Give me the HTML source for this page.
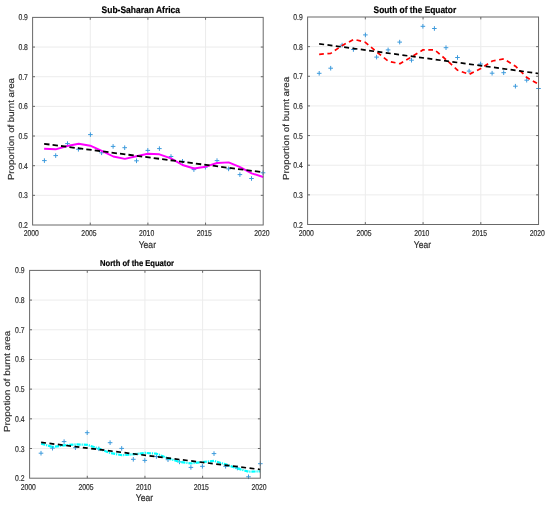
<!DOCTYPE html>
<html lang="en"><head><meta charset="utf-8"><title>Proportion of burnt area</title>
<style>html,body{margin:0;padding:0;background:#fff}svg{display:block}text{font-family:"Liberation Sans", Arial, Helvetica, sans-serif;fill:#2e2e2e;stroke:#2e2e2e;stroke-width:.2px;text-rendering:geometricPrecision}</style></head><body>
<svg width="550" height="506" viewBox="0 0 550 506">
<rect width="550" height="506" fill="#fff"/>
<g>
<path d="M90.25 17.4V225M147.9 17.4V225M205.55 17.4V225M32.6 195.34H263.2M32.6 165.69H263.2M32.6 136.03H263.2M32.6 106.37H263.2M32.6 76.71H263.2M32.6 47.06H263.2" stroke="#ececec" stroke-width="1" fill="none"/>
<path d="M42.1 160.6h4.6M44.4 158.3v4.6M53.4 155.6h4.6M55.7 153.3v4.6M65.2 143.6h4.6M67.5 141.3v4.6M76.1 149.3h4.6M78.4 147v4.6M88.1 134.6h4.6M90.4 132.3v4.6M99.3 152.8h4.6M101.6 150.5v4.6M110.8 146.4h4.6M113.1 144.1v4.6M122.4 147.7h4.6M124.7 145.4v4.6M134.2 160.8h4.6M136.5 158.5v4.6M145.5 150.4h4.6M147.8 148.1v4.6M157.1 148.6h4.6M159.4 146.3v4.6M168.7 156.5h4.6M171 154.2v4.6M180.2 161.3h4.6M182.5 159v4.6M191.6 169.6h4.6M193.9 167.3v4.6M203.1 167.2h4.6M205.4 164.9v4.6M214.7 160.6h4.6M217 158.3v4.6M226.3 168.9h4.6M228.6 166.6v4.6M237.6 174.6h4.6M239.9 172.3v4.6M249.2 178.5h4.6M251.5 176.2v4.6M260.7 172.8h4.6M263 170.5v4.6" stroke="#3c9adc" stroke-width="1" fill="none"/>
<path d="M44.13 148.8 L55.66 149.3 L67.19 146 L78.72 143.8 L90.25 145.7 L101.78 150.8 L113.31 156.5 L124.84 158.9 L136.37 156.3 L147.9 153.7 L159.43 154.3 L170.96 158.4 L182.49 165 L194.02 168.5 L205.55 166.7 L217.08 163 L228.61 162.4 L240.14 167.2 L251.67 173.3 L263.2 177" fill="none" stroke-linejoin="round" stroke="#ff00ff" stroke-width="1.9"/>
<path d="M44.13 143.8L263.2 172.3" stroke="#000" stroke-width="1.8" stroke-dasharray="5.4 3.1" fill="none"/>
<path d="M90.25 225v-2.4M90.25 17.4v2.4M147.9 225v-2.4M147.9 17.4v2.4M205.55 225v-2.4M205.55 17.4v2.4M32.6 195.34h2.4M263.2 195.34h-2.4M32.6 165.69h2.4M263.2 165.69h-2.4M32.6 136.03h2.4M263.2 136.03h-2.4M32.6 106.37h2.4M263.2 106.37h-2.4M32.6 76.71h2.4M263.2 76.71h-2.4M32.6 47.06h2.4M263.2 47.06h-2.4" stroke="#686868" stroke-width="1" fill="none"/>
<rect x="32.6" y="17.4" width="230.6" height="207.6" fill="none" stroke="#686868" stroke-width="1"/>
<text x="101.6" y="13" font-size="9.5" style="font-weight:bold;fill:#000;stroke:#000" textLength="78.4" lengthAdjust="spacingAndGlyphs">Sub-Saharan Africa</text>
<text x="18.4" y="228" font-size="8.5" textLength="9.5" lengthAdjust="spacingAndGlyphs">0.2</text>
<text x="18.4" y="198.34" font-size="8.5" textLength="9.5" lengthAdjust="spacingAndGlyphs">0.3</text>
<text x="18.4" y="168.69" font-size="8.5" textLength="9.5" lengthAdjust="spacingAndGlyphs">0.4</text>
<text x="18.4" y="139.03" font-size="8.5" textLength="9.5" lengthAdjust="spacingAndGlyphs">0.5</text>
<text x="18.4" y="109.37" font-size="8.5" textLength="9.5" lengthAdjust="spacingAndGlyphs">0.6</text>
<text x="18.4" y="79.71" font-size="8.5" textLength="9.5" lengthAdjust="spacingAndGlyphs">0.7</text>
<text x="18.4" y="50.06" font-size="8.5" textLength="9.5" lengthAdjust="spacingAndGlyphs">0.8</text>
<text x="18.4" y="20.4" font-size="8.5" textLength="9.5" lengthAdjust="spacingAndGlyphs">0.9</text>
<text x="23.7" y="236.25" font-size="8.5" textLength="15.2" lengthAdjust="spacingAndGlyphs">2000</text>
<text x="81.35" y="236.25" font-size="8.5" textLength="15.2" lengthAdjust="spacingAndGlyphs">2005</text>
<text x="139" y="236.25" font-size="8.5" textLength="15.2" lengthAdjust="spacingAndGlyphs">2010</text>
<text x="196.65" y="236.25" font-size="8.5" textLength="15.2" lengthAdjust="spacingAndGlyphs">2015</text>
<text x="254.3" y="236.25" font-size="8.5" textLength="15.2" lengthAdjust="spacingAndGlyphs">2020</text>
<text x="138.7" y="248.1" font-size="9.7" textLength="17.3" lengthAdjust="spacingAndGlyphs">Year</text>
<text transform="translate(14.2 180.1) rotate(-90) scale(1 0.94)" font-size="9.3" textLength="102" lengthAdjust="spacingAndGlyphs">Proportion of burnt area</text>
</g>
<g>
<path d="M365.34 17V224.5M423.07 17V224.5M480.81 17V224.5M307.6 194.86H538.55M307.6 165.21H538.55M307.6 135.57H538.55M307.6 105.93H538.55M307.6 76.29H538.55M307.6 46.64H538.55" stroke="#ececec" stroke-width="1" fill="none"/>
<path d="M316.9 73.3h4.6M319.2 71v4.6M328.4 68.2h4.6M330.7 65.9v4.6M339.8 45.1h4.6M342.1 42.8v4.6M351.1 49.5h4.6M353.4 47.2v4.6M363.1 34.9h4.6M365.4 32.6v4.6M374.3 57.1h4.6M376.6 54.8v4.6M385.8 49.9h4.6M388.1 47.6v4.6M397.4 42.1h4.6M399.7 39.8v4.6M409.2 60.2h4.6M411.5 57.9v4.6M420.6 26.3h4.6M422.9 24v4.6M432.1 28.5h4.6M434.4 26.2v4.6M443.7 47.7h4.6M446 45.4v4.6M455.2 57.5h4.6M457.5 55.2v4.6M466.8 71.1h4.6M469.1 68.8v4.6M478.3 64h4.6M480.6 61.7v4.6M489.8 73.2h4.6M492.1 70.9v4.6M501.4 72.7h4.6M503.7 70.4v4.6M513.1 86.2h4.6M515.4 83.9v4.6M524.4 80.2h4.6M526.7 77.9v4.6M536.2 88.5h4.6M538.5 86.2v4.6" stroke="#3c9adc" stroke-width="1" fill="none"/>
<path d="M319.15 54.3 L330.69 53.4 L342.24 45.5 L353.79 39.3 L365.34 42.3 L376.88 52.1 L388.43 61.3 L399.98 63.7 L411.53 56.9 L423.07 49.8 L434.62 49.8 L446.17 59.7 L457.72 70.3 L469.26 74.3 L480.81 68.5 L492.36 61 L503.91 58.9 L515.45 66.2 L527 77.6 L538.55 84.2" fill="none" stroke-linejoin="round" stroke="#ff0000" stroke-width="1.7" stroke-dasharray="4.7 3.6"/>
<path d="M319.15 43.8L538.55 73.5" stroke="#000" stroke-width="1.7" stroke-dasharray="5 3.4" fill="none"/>
<path d="M365.34 224.5v-2.4M365.34 17v2.4M423.07 224.5v-2.4M423.07 17v2.4M480.81 224.5v-2.4M480.81 17v2.4M307.6 194.86h2.4M538.55 194.86h-2.4M307.6 165.21h2.4M538.55 165.21h-2.4M307.6 135.57h2.4M538.55 135.57h-2.4M307.6 105.93h2.4M538.55 105.93h-2.4M307.6 76.29h2.4M538.55 76.29h-2.4M307.6 46.64h2.4M538.55 46.64h-2.4" stroke="#686868" stroke-width="1" fill="none"/>
<rect x="307.6" y="17" width="230.95" height="207.5" fill="none" stroke="#686868" stroke-width="1"/>
<text x="373.6" y="13" font-size="9.5" style="font-weight:bold;fill:#000;stroke:#000" textLength="82.6" lengthAdjust="spacingAndGlyphs">South of the Equator</text>
<text x="293.3" y="227.5" font-size="8.5" textLength="9.5" lengthAdjust="spacingAndGlyphs">0.2</text>
<text x="293.3" y="197.86" font-size="8.5" textLength="9.5" lengthAdjust="spacingAndGlyphs">0.3</text>
<text x="293.3" y="168.21" font-size="8.5" textLength="9.5" lengthAdjust="spacingAndGlyphs">0.4</text>
<text x="293.3" y="138.57" font-size="8.5" textLength="9.5" lengthAdjust="spacingAndGlyphs">0.5</text>
<text x="293.3" y="108.93" font-size="8.5" textLength="9.5" lengthAdjust="spacingAndGlyphs">0.6</text>
<text x="293.3" y="79.29" font-size="8.5" textLength="9.5" lengthAdjust="spacingAndGlyphs">0.7</text>
<text x="293.3" y="49.64" font-size="8.5" textLength="9.5" lengthAdjust="spacingAndGlyphs">0.8</text>
<text x="293.3" y="20" font-size="8.5" textLength="9.5" lengthAdjust="spacingAndGlyphs">0.9</text>
<text x="298.7" y="235.9" font-size="8.5" textLength="15.2" lengthAdjust="spacingAndGlyphs">2000</text>
<text x="356.44" y="235.9" font-size="8.5" textLength="15.2" lengthAdjust="spacingAndGlyphs">2005</text>
<text x="414.17" y="235.9" font-size="8.5" textLength="15.2" lengthAdjust="spacingAndGlyphs">2010</text>
<text x="471.91" y="235.9" font-size="8.5" textLength="15.2" lengthAdjust="spacingAndGlyphs">2015</text>
<text x="529.65" y="235.9" font-size="8.5" textLength="15.2" lengthAdjust="spacingAndGlyphs">2020</text>
<text x="413.8" y="248" font-size="9.7" textLength="17.3" lengthAdjust="spacingAndGlyphs">Year</text>
<text transform="translate(289.1 179.9) rotate(-90) scale(1 0.94)" font-size="9.3" textLength="103" lengthAdjust="spacingAndGlyphs">Proportion of burnt area</text>
</g>
<g>
<path d="M87.28 270.4V478.2M144.95 270.4V478.2M202.62 270.4V478.2M29.6 448.51H260.3M29.6 418.83H260.3M29.6 389.14H260.3M29.6 359.46H260.3M29.6 329.77H260.3M29.6 300.09H260.3" stroke="#ececec" stroke-width="1" fill="none"/>
<path d="M38.7 453.2h4.6M41 450.9v4.6M50.2 448.2h4.6M52.5 445.9v4.6M61.8 441.6h4.6M64.1 439.3v4.6M73.1 447.7h4.6M75.4 445.4v4.6M84.9 432.7h4.6M87.2 430.4v4.6M96.5 448.8h4.6M98.8 446.5v4.6M107.8 442.7h4.6M110.1 440.4v4.6M119.4 448.4h4.6M121.7 446.1v4.6M131 459.3h4.6M133.3 457v4.6M142.5 460.4h4.6M144.8 458.1v4.6M154.1 456.5h4.6M156.4 454.2v4.6M165.7 459.7h4.6M168 457.4v4.6M177.2 461.9h4.6M179.5 459.6v4.6M188.6 467.4h4.6M190.9 465.1v4.6M200.1 466.3h4.6M202.4 464v4.6M211.7 453.6h4.6M214 451.3v4.6M223.3 466.3h4.6M225.6 464v4.6M235.1 468h4.6M237.4 465.7v4.6M246.2 476.8h4.6M248.5 474.5v4.6M258 463.7h4.6M260.3 461.4v4.6" stroke="#3c9adc" stroke-width="1" fill="none"/>
<path d="M41.14 443.6 L52.67 447 L64.21 445.4 L75.74 444.4 L87.28 444.8 L98.81 448.6 L110.34 453 L121.88 455.2 L133.42 454.3 L144.95 452.9 L156.49 453.7 L168.02 458.3 L179.56 461.9 L191.09 463.4 L202.63 462 L214.16 460.9 L225.69 464.4 L237.23 468.5 L248.77 471.7 L260.3 471.4" fill="none" stroke-linejoin="round" stroke="#00ffff" stroke-width="2.2" stroke-dasharray="4.2 0.9 1.2 0.9"/>
<path d="M41.14 442.4L260.3 469.5" stroke="#000" stroke-width="1.7" stroke-dasharray="4.9 3.5" fill="none"/>
<path d="M87.28 478.2v-2.4M87.28 270.4v2.4M144.95 478.2v-2.4M144.95 270.4v2.4M202.62 478.2v-2.4M202.62 270.4v2.4M29.6 448.51h2.4M260.3 448.51h-2.4M29.6 418.83h2.4M260.3 418.83h-2.4M29.6 389.14h2.4M260.3 389.14h-2.4M29.6 359.46h2.4M260.3 359.46h-2.4M29.6 329.77h2.4M260.3 329.77h-2.4M29.6 300.09h2.4M260.3 300.09h-2.4" stroke="#686868" stroke-width="1" fill="none"/>
<rect x="29.6" y="270.4" width="230.7" height="207.8" fill="none" stroke="#686868" stroke-width="1"/>
<text x="100" y="266" font-size="8.5" style="font-weight:bold;fill:#000;stroke:#000" textLength="74" lengthAdjust="spacingAndGlyphs">North of the Equator</text>
<text x="15.1" y="481.2" font-size="8.5" textLength="9.5" lengthAdjust="spacingAndGlyphs">0.2</text>
<text x="15.1" y="451.51" font-size="8.5" textLength="9.5" lengthAdjust="spacingAndGlyphs">0.3</text>
<text x="15.1" y="421.83" font-size="8.5" textLength="9.5" lengthAdjust="spacingAndGlyphs">0.4</text>
<text x="15.1" y="392.14" font-size="8.5" textLength="9.5" lengthAdjust="spacingAndGlyphs">0.5</text>
<text x="15.1" y="362.46" font-size="8.5" textLength="9.5" lengthAdjust="spacingAndGlyphs">0.6</text>
<text x="15.1" y="332.77" font-size="8.5" textLength="9.5" lengthAdjust="spacingAndGlyphs">0.7</text>
<text x="15.1" y="303.09" font-size="8.5" textLength="9.5" lengthAdjust="spacingAndGlyphs">0.8</text>
<text x="15.1" y="273.4" font-size="8.5" textLength="9.5" lengthAdjust="spacingAndGlyphs">0.9</text>
<text x="20.7" y="489.6" font-size="8.5" textLength="15.2" lengthAdjust="spacingAndGlyphs">2000</text>
<text x="78.38" y="489.6" font-size="8.5" textLength="15.2" lengthAdjust="spacingAndGlyphs">2005</text>
<text x="136.05" y="489.6" font-size="8.5" textLength="15.2" lengthAdjust="spacingAndGlyphs">2010</text>
<text x="193.72" y="489.6" font-size="8.5" textLength="15.2" lengthAdjust="spacingAndGlyphs">2015</text>
<text x="251.4" y="489.6" font-size="8.5" textLength="15.2" lengthAdjust="spacingAndGlyphs">2020</text>
<text x="135.8" y="501.3" font-size="9.7" textLength="17.4" lengthAdjust="spacingAndGlyphs">Year</text>
<text transform="translate(10.3 432.1) rotate(-90) scale(1 0.94)" font-size="9.3" textLength="101.5" lengthAdjust="spacingAndGlyphs">Propotion of burnt area</text>
</g>
</svg></body></html>
